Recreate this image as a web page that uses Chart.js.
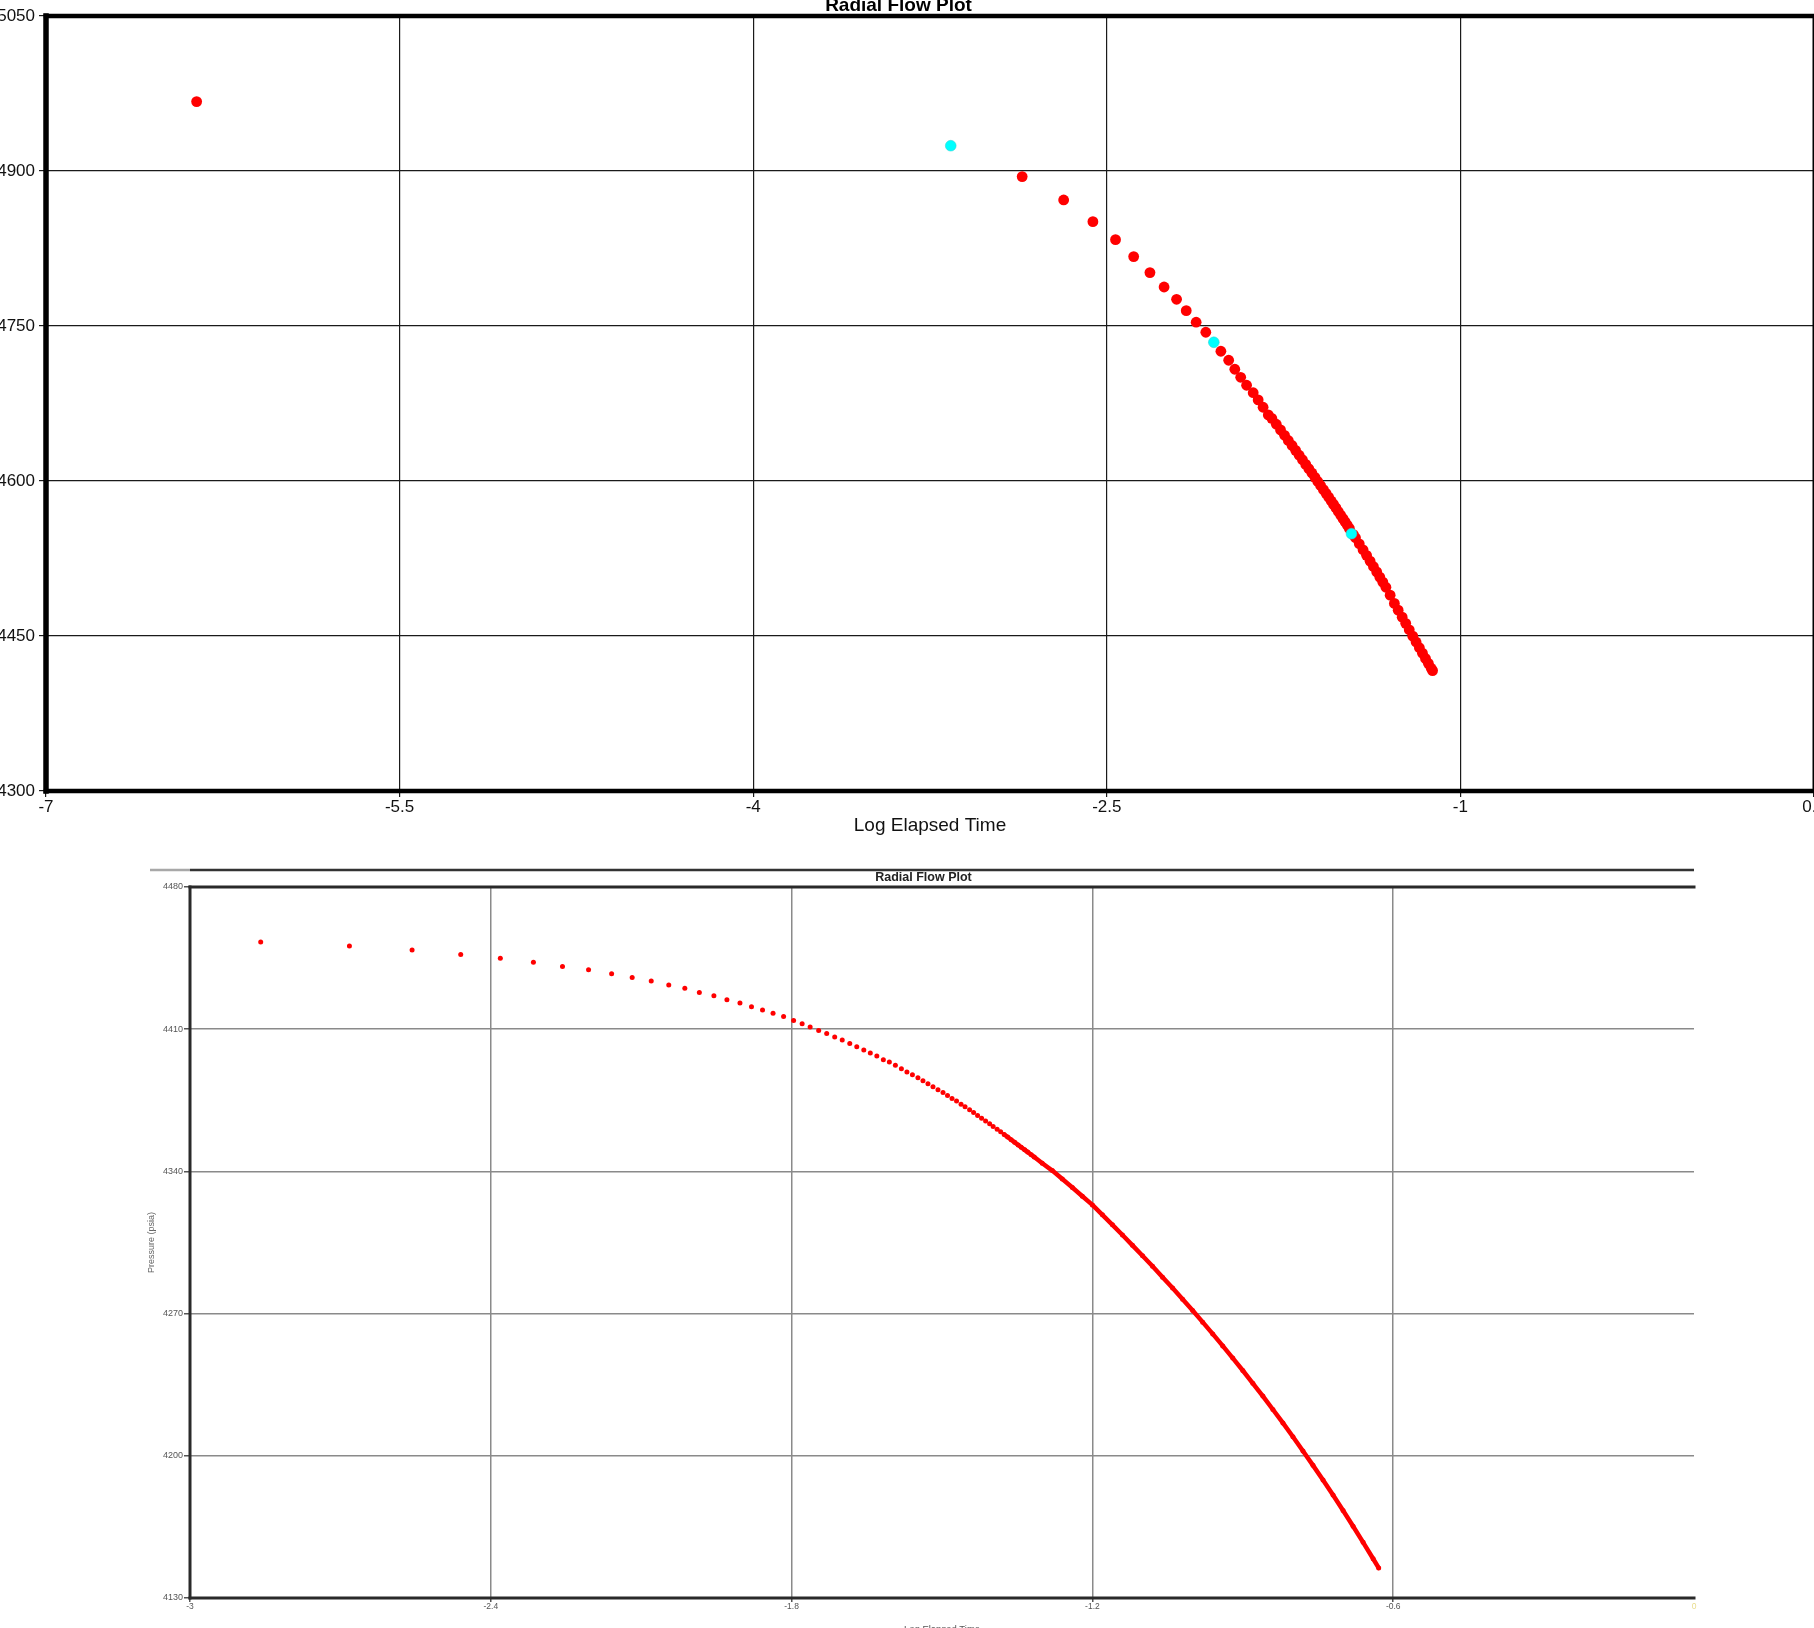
<!DOCTYPE html>
<html>
<head>
<meta charset="utf-8">
<title>Radial Flow Plot</title>
<script src="https://cdn.jsdelivr.net/npm/chart.js@4.4.1/dist/chart.umd.min.js"></script>
<style>
    html, body { margin: 0; padding: 0; width: 1814px; height: 1628px; overflow: hidden; background: #fff; }
    .plot { position: absolute; }
    #topWrap { left: -32px; top: -11px; width: 1862px; height: 848px; }
    #bottomWrap { left: 140px; top: 860px; width: 1566px; height: 780px; }
</style>
</head>
<body>
<div class="plot" id="topWrap"><canvas id="topChart"></canvas></div>
<div class="plot" id="bottomWrap"><canvas id="bottomChart"></canvas></div>
<script>
// ---- top plot: log elapsed time vs pressure ----
const TOP_X_TICKS = [-7, -5.5, -4, -2.5, -1, 0.5];
const TOP_Y_TICKS = [4300, 4450, 4600, 4750, 4900, 5050];

const TOP_RED_X = [
    -6.361, -2.859, -2.683, -2.559, -2.463, -2.386, -2.317, -2.257, -2.204, -2.163, -2.121, -2.080,
    -2.016, -1.983, -1.957, -1.932, -1.907, -1.879, -1.858, -1.837, -1.815,
    -1.800, -1.781, -1.763, -1.746, -1.730, -1.714, -1.699, -1.684, -1.670, -1.656, -1.643, -1.630,
    -1.617, -1.605, -1.593, -1.581, -1.570, -1.559, -1.548, -1.538, -1.528, -1.518, -1.508, -1.498,
    -1.489, -1.480, -1.471,
    -1.454, -1.445, -1.429, -1.413, -1.398, -1.383, -1.369, -1.355, -1.342, -1.329, -1.316, -1.298,
    -1.280, -1.264, -1.247, -1.232, -1.217, -1.202, -1.188, -1.174, -1.161, -1.148, -1.136, -1.124,
    -1.118
];
const TOP_RED_Y = [
    4967.1, 4894.5, 4871.9, 4850.9, 4833.5, 4817.1, 4801.6, 4787.7, 4775.8, 4764.8, 4753.6, 4743.9,
    4725.5, 4716.8, 4708.1, 4700.3, 4692.6, 4685.4, 4678.4, 4671.3, 4663.9,
    4660.6, 4654.9, 4649.4, 4644.2, 4639.2, 4634.3, 4629.6, 4624.9, 4620.5, 4616.0, 4611.8, 4607.7,
    4603.5, 4599.5, 4595.6, 4591.6, 4588.0, 4584.3, 4580.6, 4577.3, 4573.9, 4570.4, 4567.0, 4563.6,
    4560.4, 4557.3, 4554.1,
    4548.1, 4545.0, 4539.2, 4533.4, 4528.0, 4522.4, 4517.2, 4512.0, 4507.0, 4502.1, 4497.1, 4489.5,
    4481.5, 4475.0, 4468.2, 4462.2, 4456.0, 4449.8, 4444.2, 4438.6, 4433.4, 4428.2, 4423.5, 4418.8,
    4416.5
];
const TOP_CYAN_X = [-3.162, -2.046, -1.462];
const TOP_CYAN_Y = [4924.4, 4734.2, 4549.0];

// ---- bottom plot ----
const BOTTOM_X_TICKS = [-3, -2.4, -1.8, -1.2, -0.6, 0];
const BOTTOM_Y_TICKS = [4130, 4200, 4270, 4340, 4410, 4480];

const BOTTOM_X = [
    -2.859, -2.682, -2.557, -2.460, -2.381, -2.315, -2.257, -2.205, -2.159, -2.118, -2.080, -2.045,
    -2.013, -1.984, -1.955, -1.929, -1.903, -1.880, -1.858, -1.837, -1.816, -1.796, -1.779,
    -1.763, -1.746, -1.730, -1.714, -1.699, -1.684, -1.670, -1.656, -1.643, -1.630, -1.617, -1.605,
    -1.593, -1.581, -1.570, -1.559, -1.548, -1.538, -1.528, -1.518, -1.508, -1.498, -1.489, -1.480,
    -1.471, -1.462, -1.454, -1.445, -1.437, -1.429, -1.421, -1.413, -1.405, -1.398, -1.390, -1.383,
    -1.376, -1.369, -1.362, -1.355, -1.348, -1.342, -1.335, -1.329, -1.322, -1.316,
    -1.30, -1.28, -1.26, -1.24, -1.22, -1.20, -1.18, -1.16, -1.14, -1.12, -1.10, -1.08, -1.06, -1.04,
    -1.02, -1.00, -0.98, -0.96, -0.94, -0.92, -0.90, -0.88, -0.86, -0.84, -0.82, -0.80, -0.78, -0.76,
    -0.74, -0.72, -0.70, -0.68, -0.66, -0.64, -0.629
];
const BOTTOM_Y = [
    4452.9, 4451.0, 4449.0, 4446.8, 4444.9, 4442.9, 4440.9, 4439.3, 4437.3, 4435.4, 4433.7, 4431.8,
    4430.1, 4428.1, 4426.5, 4424.5, 4422.9, 4421.1, 4419.5, 4417.8, 4416.2, 4414.3, 4412.7,
    4411.1, 4409.4, 4407.9, 4406.1, 4404.7, 4403.0, 4401.4, 4399.7, 4398.3, 4396.8, 4395.0, 4393.8,
    4392.2, 4390.5, 4388.9, 4387.6, 4386.1, 4384.6, 4383.1, 4381.7, 4380.2, 4378.9, 4377.4, 4375.9,
    4374.6, 4373.1, 4371.8, 4370.3, 4369.0, 4367.5, 4366.2, 4364.8, 4363.4, 4362.1, 4360.8, 4359.5,
    4358.2, 4356.9, 4355.6, 4354.3, 4353.0, 4351.9, 4350.6, 4349.5, 4348.2, 4347.1,
    4344.0, 4340.4, 4336.3, 4332.1, 4327.8, 4323.5, 4318.6, 4313.7, 4308.7, 4303.6, 4298.5, 4293.3,
    4287.9, 4282.6, 4277.1, 4271.5, 4265.8, 4260.0, 4254.1, 4248.1, 4242.0, 4235.7, 4229.4, 4222.8,
    4216.2, 4209.4, 4202.4, 4195.3, 4188.1, 4180.7, 4173.1, 4165.3, 4157.4, 4149.3, 4144.8
];
// from here on the samples sit so close they read as one solid trace
const BOTTOM_DENSE_FROM = -1.38;

const FONT = "'Liberation Sans', Arial, sans-serif";
const RED = '#ff0000';
const CYAN = '#00ffff';

const toPoints = (xs, ys) => xs.map((x, i) => ({ x: x, y: ys[i] }));

// thick plot frame + optional rule above the plot (bottom chart)
const framePlugin = {
    id: 'frame',
    beforeDatasetsDraw(chart, args, opts) {
        const { ctx, chartArea: a } = chart;
        const line = (w, color, x1, y1, x2, y2) => {
            if (!w) return;
            ctx.lineWidth = w;
            ctx.strokeStyle = color;
            ctx.beginPath();
            ctx.moveTo(x1, y1);
            ctx.lineTo(x2, y2);
            ctx.stroke();
        };
        ctx.save();
        ctx.lineCap = 'square';
        line(opts.top, opts.color, a.left, a.top, a.right, a.top);
        line(opts.bottom, opts.color, a.left, a.bottom, a.right, a.bottom);
        line(opts.left, opts.color, a.left, a.top, a.left, a.bottom);
        line(opts.right, opts.color, a.right, a.top, a.right, a.bottom);
        if (opts.rule) {
            ctx.lineCap = 'butt';
            const y = a.top - opts.rule.offset;
            line(opts.rule.width, '#a8a8a8', a.left - 40, y, a.left, y);
            line(opts.rule.width, opts.rule.color, a.left, y, a.right, y);
        }
        ctx.restore();
    }
};

const fixedTicks = list => scale => { scale.ticks = list.map(v => ({ value: v })); };

document.addEventListener('DOMContentLoaded', () => {
    Chart.defaults.font.family = FONT;

    // 1. upper plot
    new Chart(document.getElementById('topChart'), {
        type: 'scatter',
        data: {
            datasets: [{
                data: toPoints(TOP_CYAN_X, TOP_CYAN_Y),
                pointRadius: 5.4,
                pointBackgroundColor: CYAN,
                pointBorderColor: '#33cccc',
                pointBorderWidth: 0.5
            }, {
                data: toPoints(TOP_RED_X, TOP_RED_Y),
                pointRadius: 5.4,
                pointBackgroundColor: RED,
                pointBorderWidth: 0
            }]
        },
        options: {
            responsive: true,
            maintainAspectRatio: false,
            animation: false,
            // left padding only nudges the centred title to the right
            layout: { padding: { left: 15, right: 16, top: 0, bottom: 0 } },
            plugins: {
                legend: { display: false },
                tooltip: { enabled: false },
                title: {
                    display: true,
                    text: 'Radial Flow Plot',
                    color: '#000',
                    font: { size: 19, weight: 'bold', lineHeight: 1.1 },
                    padding: { top: 6, bottom: 0 }
                },
                frame: { color: '#000', top: 4.5, left: 5.5, bottom: 4.5, right: 3 }
            },
            scales: {
                x: {
                    type: 'linear',
                    min: -7,
                    max: 0.5,
                    afterBuildTicks: fixedTicks(TOP_X_TICKS),
                    afterFit: s => { s.height = 46; },
                    border: { display: false },
                    grid: { color: '#1a1a1a', lineWidth: 1.2, tickLength: 6, tickColor: '#1a1a1a' },
                    ticks: { color: '#111', font: { size: 17 }, padding: 0, maxRotation: 0, autoSkip: false, callback: v => String(v) },
                    title: { display: true, text: 'Log Elapsed Time', color: '#111', font: { size: 19 }, padding: { top: 0, bottom: 0 } }
                },
                y: {
                    type: 'linear',
                    min: 4300,
                    max: 5050,
                    afterBuildTicks: fixedTicks(TOP_Y_TICKS),
                    afterFit: s => { s.width = 63; },
                    border: { display: false },
                    grid: { color: '#1a1a1a', lineWidth: 1.2, tickLength: 7, tickColor: '#1a1a1a' },
                    ticks: { color: '#111', font: { size: 17 }, padding: 4, autoSkip: false, callback: v => String(v) }
                }
            }
        },
        plugins: [framePlugin]
    });

    // 2. lower plot
    const GRID = '#8a8a8a';
    new Chart(document.getElementById('bottomChart'), {
        type: 'scatter',
        data: {
            datasets: [{
                data: toPoints(BOTTOM_X, BOTTOM_Y),
                showLine: true,
                tension: 0,
                pointRadius: 2.5,
                pointBackgroundColor: RED,
                pointBorderWidth: 0,
                borderColor: RED,
                borderWidth: 4.5,
                borderCapStyle: 'round',
                borderJoinStyle: 'round',
                segment: {
                    borderColor: ctx => ctx.p0.parsed.x >= BOTTOM_DENSE_FROM ? RED : 'transparent'
                }
            }]
        },
        options: {
            responsive: true,
            maintainAspectRatio: false,
            animation: false,
            layout: { padding: { left: 13, right: 12, top: 0, bottom: 0 } },
            plugins: {
                legend: { display: false },
                tooltip: { enabled: false },
                title: {
                    display: true,
                    text: 'Radial Flow Plot',
                    color: '#222',
                    font: { size: 12.5, weight: 'bold', lineHeight: 1.2 },
                    padding: { top: 10.5, bottom: 1.5 }
                },
                frame: { color: '#2a2a2a', top: 3, left: 3, bottom: 3, right: 0, rule: { offset: 17, width: 2.5, color: '#333' } }
            },
            scales: {
                x: {
                    type: 'linear',
                    min: -3,
                    max: 0,
                    afterBuildTicks: fixedTicks(BOTTOM_X_TICKS),
                    afterFit: s => { s.height = 42; },
                    border: { display: false },
                    grid: {
                        color: c => c.tick && c.tick.value === 0 ? 'transparent' : GRID,
                        tickColor: c => c.tick && c.tick.value === 0 ? 'transparent' : '#555',
                        lineWidth: 1.5,
                        tickLength: 4
                    },
                    ticks: {
                        color: c => c.tick && c.tick.value === 0 ? '#e8dc8c' : '#555',
                        font: { size: 8.5 },
                        padding: 0,
                        maxRotation: 0,
                        autoSkip: false,
                        callback: v => String(v)
                    },
                    title: { display: true, text: 'Log Elapsed Time', color: '#555', font: { size: 9.5 }, padding: { top: 0, bottom: 5 } }
                },
                y: {
                    type: 'linear',
                    min: 4130,
                    max: 4480,
                    afterBuildTicks: fixedTicks(BOTTOM_Y_TICKS),
                    afterFit: s => { s.width = 37; },
                    border: { display: false },
                    grid: { color: GRID, lineWidth: 1.5, tickLength: 6, tickColor: '#555' },
                    ticks: { color: '#555', font: { size: 9 }, padding: 1, autoSkip: false, callback: v => String(v) },
                    title: { display: true, text: 'Pressure (psia)', color: '#666', font: { size: 9 }, padding: { top: -6.4, bottom: 0 } }
                }
            }
        },
        plugins: [framePlugin]
    });
});
</script>
</body>
</html>
